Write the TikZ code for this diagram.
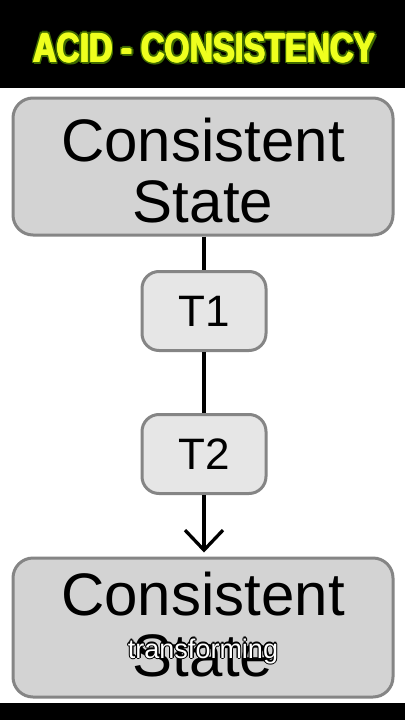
\documentclass[tikz,border=0pt]{standalone}
\usepackage{fontspec}
\setmainfont{Liberation Sans}
\usetikzlibrary{arrows.meta}
\definecolor{boxline}{HTML}{858585}
\definecolor{bigfill}{HTML}{D3D3D3}
\definecolor{smallfill}{HTML}{E6E6E6}
\definecolor{titleyellow}{HTML}{EEFF1E}
\definecolor{titleedge}{HTML}{3F6A00}
\tikzset{
  bigbox/.style={draw=boxline, line width=3pt, fill=bigfill, rounded corners=20pt,
    minimum width=380pt, minimum height=137pt, inner sep=0pt},
  bigtext/.style={align=center, font=\fontsize{60}{61}\selectfont, inner sep=0pt},
  tbox/.style={draw=boxline, line width=3pt, fill=smallfill, rounded corners=17pt,
    minimum width=124pt, minimum height=79pt, inner sep=0pt, font=\fontsize{44}{44}\selectfont},
  link/.style={line width=3.3pt, black},
  titlefont/.style={font=\fontsize{41}{41}\selectfont\bfseries, inner sep=0pt, anchor=base},
  subfont/.style={font=\fontsize{27}{27}\selectfont, inner sep=0pt, anchor=base}
}
\newcommand{\titletext}{\scalebox{0.79}[1]{ACID - CONSISTENCY}}
\begin{document}
\begin{tikzpicture}[x=1pt,y=-1pt]
\useasboundingbox (0,0) rectangle (405,720);
\fill[white] (0,0) rectangle (405,720);
\fill[black] (0,0) rectangle (405,88);
\fill[black] (0,703) rectangle (405,720);
% title: dark outline, then emboldened yellow letters
\foreach \dx/\dy in {-2.4/0,2.4/0,0/-2.4,0/2.4,-1.8/-1.8,1.8/1.8,-1.8/1.8,1.8/-1.8,2.2/2.6}{
  \node[titlefont, text=titleedge] at (204.5+\dx,62+\dy) {\titletext};
}
\foreach \dx/\dy in {-0.8/0,0.8/0,0/-0.5,0/0.5}{
  \node[titlefont, text=titleyellow] at (204.5+\dx,62+\dy) {\titletext};
}
\node[titlefont, text=titleyellow] (title) at (204.5,62) {\titletext};
% boxes
\node[bigbox] (s1) at (203,166.5) {};
\node[bigtext] (s1t) at (203,171) {Consistent\\State};
\node[tbox] (t1) at (204,311) {T1};
\node[tbox] (t2) at (204,454) {T2};
\node[bigbox, minimum height=139pt] (s2) at (203,627.5) {};
\node[bigtext] (s2t) at (203,625) {Consistent\\State};
% connectors
\draw[link] (s1.south -| t1) -- (t1.north);
\draw[link] (t1.south) -- (t2.north);
\draw[link, -{Straight Barb[length=20pt,width=38pt,line width=3.3pt]}, shorten >=4pt] (t2.south) -- (s2.north -| t2);
% subtitle
\foreach \dx/\dy in {-1.2/0,1.2/0,0/-1.2,0/1.2,-0.9/-0.9,0.9/0.9,-0.9/0.9,0.9/-0.9}{
  \node[subfont, text=black] at (203+\dx,658+\dy) {transforming};
}
\node[subfont, text=white] (sub) at (203,658) {transforming};
\end{tikzpicture}
\end{document}
